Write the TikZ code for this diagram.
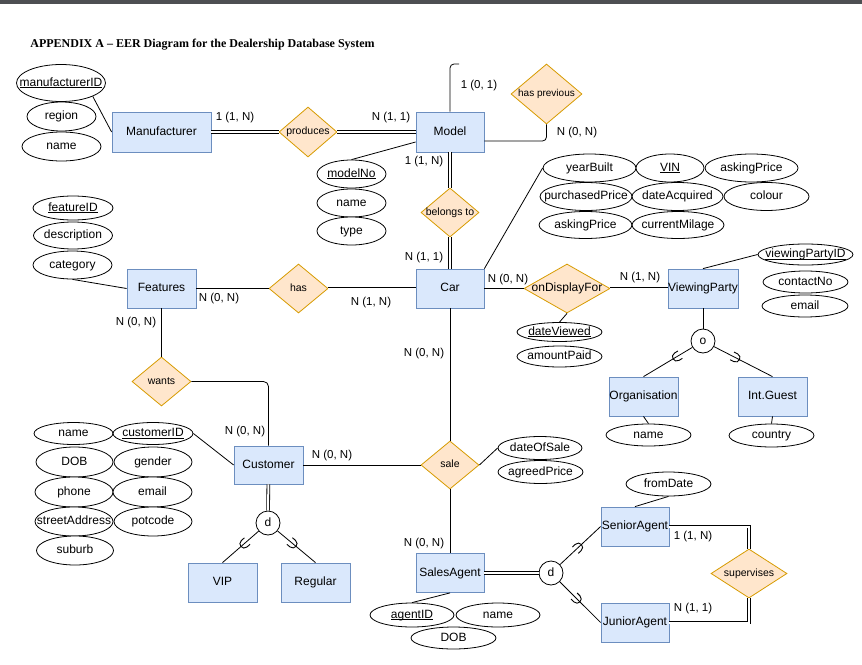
\documentclass[tikz,border=0pt]{standalone}
\usepackage{fontspec}
\setmainfont{Liberation Sans}
\newfontfamily\titlefont{Liberation Serif}
\usetikzlibrary{shapes.geometric, decorations.markings, calc}
\definecolor{entfill}{HTML}{DAE8FC}
\definecolor{entdraw}{HTML}{6C8EBF}
\definecolor{relfill}{HTML}{FFE6CC}
\definecolor{reldraw}{HTML}{D79B00}
\definecolor{bandgray}{HTML}{4D4F52}
\newcommand{\fsz}[1]{\fontsize{#1}{#1}\selectfont}
\newcommand{\zw}[1]{\makebox[0pt]{\rule[-0.22em]{0pt}{0.94em}#1}}
\newcommand{\ukey}[1]{\underline{\raisebox{0pt}[\height][0pt]{#1}}}
\begin{document}
\begin{tikzpicture}[x=1pt, y=-1pt, line width=0.8pt,
  ent/.style={rectangle, draw=entdraw, fill=entfill, inner sep=0pt, minimum width=69, minimum height=39, font=\fsz{12}},
  rel/.style={diamond, draw=reldraw, fill=relfill, inner sep=0pt, font=\fsz{10.5}},
  attr/.style 2 args={ellipse, draw=black, fill=white, inner sep=0pt, minimum width=#1, minimum height=#2, font=\fsz{12}},
  card/.style={font=\fsz{11.5}, inner sep=0pt},
  spec/.style={circle, draw=black, fill=white, minimum size=24, inner sep=0pt, font=\fsz{12}},
  dbl/.style={double, double distance=2pt},
  subs/.style={postaction={decorate, decoration={markings, mark=at position #1 with {\draw[line width=0.9pt] (-4,4.3) -- (0,4.3) .. controls (5.7,4.3) and (5.7,-4.3) .. (0,-4.3) -- (-4,-4.3);}}}}
]
\path[fill=white, use as bounding box] (0,0) rectangle (862,664);
\fill[bandgray] (0,0) rectangle (862,4);
\node[anchor=west, inner sep=0pt, font=\titlefont\bfseries\fsz{12}] (title) at (30,45) {APPENDIX A – EER Diagram for the Dealership Database System};

% entities
\node[ent, minimum width=99, minimum height=40] (manu) at (161.5,132) {\zw{Manufacturer}};
\node[ent, minimum width=68, minimum height=40] (model) at (450,132) {\zw{Model}};
\node[ent, minimum width=68] (car) at (450,288.5) {\zw{Car}};
\node[ent] (feat) at (161.5,288.5) {\zw{Features}};
\node[ent, minimum height=38] (cust) at (268.5,465) {\zw{Customer}};
\node[ent] (vip) at (222.5,582.5) {\zw{VIP}};
\node[ent] (reg) at (315.5,582.5) {\zw{Regular}};
\node[ent, minimum width=68] (sa) at (450,573) {\zw{SalesAgent}};
\node[ent, minimum width=68] (senior) at (635,526.5) {\zw{SeniorAgent}};
\node[ent, minimum width=68] (junior) at (635,622.5) {\zw{JuniorAgent}};
\node[ent, minimum width=70] (vp) at (703,288.5) {\zw{ViewingParty}};
\node[ent] (org) at (643.5,396.5) {\zw{Organisation}};
\node[ent] (intg) at (772.5,396.5) {\zw{Int.Guest}};

% relationships
\node[rel, minimum width=58, minimum height=50] (produces) at (308,132) {\zw{produces}};
\node[rel, minimum width=71, minimum height=60, font=\fsz{10}] (hasprev) at (546.5,94) {\zw{has previous}};
\node[rel, minimum width=58, minimum height=49] (belongs) at (450,212.5) {\zw{belongs to}};
\node[rel, minimum width=59, minimum height=49] (has) at (298.5,288.5) {\zw{has}};
\node[rel, minimum width=59, minimum height=49] (wants) at (161.5,381.5) {\zw{wants}};
\node[rel, minimum width=58, minimum height=48] (sale) at (450,465) {\zw{sale}};
\node[rel, minimum width=86, minimum height=49, font=\fsz{12}] (odf) at (567,288.5) {\zw{onDisplayFor}};
\node[rel, minimum width=76, minimum height=49] (sup) at (749,573.5) {\zw{supervises}};

% specialisation circles
\node[spec] (d1) at (268,523) {\zw{d}};
\node[spec] (ov) at (703,341) {\zw{o}};
\node[spec] (d2) at (551,573) {\zw{d}};

% attributes
\node[attr={89}{37}] (mid) at (61,83) {\zw{\ukey{manufacturerID}}};
\node[attr={69}{29}] (region) at (61.5,116.5) {\zw{region}};
\node[attr={79}{29}] (mname) at (61.5,146.5) {\zw{name}};
\node[attr={69}{28}] (modelno) at (351.5,174) {\zw{\ukey{modelNo}}};
\node[attr={69}{28}] (mdname) at (351.5,203) {\zw{name}};
\node[attr={69}{28}] (mtype) at (351.5,231) {\zw{type}};
\node[attr={80}{24}] (fid) at (73,208) {\zw{\ukey{featureID}}};
\node[attr={79}{27}] (fdesc) at (73,235.5) {\zw{description}};
\node[attr={79}{28}] (fcat) at (72.5,265) {\zw{category}};

\node[attr={93}{28}] (yb) at (589.5,168) {\zw{yearBuilt}};
\node[attr={68}{28}] (vin) at (670,168) {\zw{\ukey{VIN}}};
\node[attr={93}{28}] (ap1) at (751.5,168) {\zw{askingPrice}};
\node[attr={92}{28}] (pp) at (586,196.5) {\zw{purchasedPrice}};
\node[attr={91}{28}] (da) at (677.5,196.5) {\zw{dateAcquired}};
\node[attr={85}{28}] (col) at (766.5,196.5) {\zw{colour}};
\node[attr={93}{27}] (ap2) at (585.5,225) {\zw{askingPrice}};
\node[attr={92}{27}] (cm) at (678,225) {\zw{currentMilage}};

\node[attr={79}{22}] (cname) at (73.5,433.5) {\zw{name}};
\node[attr={80}{22}] (cid) at (153,433.5) {\zw{\ukey{customerID}}};
\node[attr={77}{30}] (cdob) at (74.5,462) {\zw{DOB}};
\node[attr={78}{30}] (cgen) at (153,462) {\zw{gender}};
\node[attr={78}{30}] (cphone) at (74,492) {\zw{phone}};
\node[attr={79}{30}] (cemail) at (152.5,492) {\zw{email}};
\node[attr={78}{29}] (cstreet) at (74,521.5) {\zw{streetAddress}};
\node[attr={78}{29}] (cpot) at (153,521.5) {\zw{potcode}};
\node[attr={77}{29}] (csub) at (75,550.5) {\zw{suburb}};

\node[attr={84}{23}] (dos) at (540,448) {\zw{dateOfSale}};
\node[attr={85}{23}] (agp) at (540.5,472) {\zw{agreedPrice}};
\node[attr={84}{24}] (aid) at (412,615) {\zw{\ukey{agentID}}};
\node[attr={84}{24}] (aname) at (498,615) {\zw{name}};
\node[attr={85}{22}] (adob) at (453.5,638) {\zw{DOB}};
\node[attr={85}{24}] (fd) at (668.5,484) {\zw{fromDate}};

\node[attr={95}{21}] (vpid) at (805.5,254.5) {\zw{\ukey{viewingPartyID}}};
\node[attr={85}{22}] (vcon) at (805.5,282) {\zw{contactNo}};
\node[attr={86}{22}] (vem) at (805,306) {\zw{email}};
\node[attr={85}{19}] (dv) at (559.5,332) {\zw{\ukey{dateViewed}}};
\node[attr={85}{21}] (apd) at (559.5,356.5) {\zw{amountPaid}};
\node[attr={85}{22}] (oname) at (648.5,435) {\zw{name}};
\node[attr={85}{23}] (ctry) at (771.5,435.5) {\zw{country}};

\coordinate (hpend) at (459,64);

% connectors
\draw (mid.south east) -- (manu.west);
\draw[dbl] (manu) -- (produces);
\draw[dbl] (produces) -- (model);
\draw (modelno.north) -- ($(model.west)+(0,10)$);
\draw[rounded corners=4] (model.north) |- (hpend);
\draw[rounded corners=4] ($(model.east)+(0,9)$) -| (hasprev.south);
\draw[dbl] (model) -- (belongs);
\draw[dbl] (belongs) -- (car);
\draw (car.north east) -- (yb.west);
\draw (fcat.south) -- (feat.west);
\draw (feat) -- (has);
\draw[dbl] (has) -- (car);
\draw (feat) -- (wants);
\draw[rounded corners=5] (wants.east) -| (cust.north);
\draw (cid.east) -- (cust.west);
\draw (cust) -- (sale);
\draw (car) -- (sale);
\draw (sale) -- (sa);
\draw (sale.east) -- (dos.west);
\draw[dbl] (cust) -- (d1);
\draw[subs=0.4] (d1) -- (vip.north);
\draw[subs=0.4] (d1) -- (reg.north);
\draw (sa.south) -- (aid.north);
\draw[dbl] (sa) -- (d2);
\draw[subs=0.45] (d2) -- (senior.west);
\draw[subs=0.42] (d2) -- (junior.west);
\draw (senior.north) -- (fd.south);
\draw[dbl] (senior.east) -| (sup.north);
\draw[dbl] (junior.east) -| (sup.south);
\draw (car) -- (odf);
\draw[dbl] (odf) -- (vp);
\draw (odf.south) -- (dv.north);
\draw (vp.north) -- (vpid.west);
\draw (vp) -- (ov);
\draw[subs=0.32] (ov) -- (org.north);
\draw[subs=0.37] (ov) -- (intg.north);
\draw (org.south) -- (oname.north);
\draw (intg.south) -- (ctry.north);

% cardinalities
\node[card] (k1) at (235,118) {1 (1, N)};
\node[card] (k2) at (391,118) {N (1, 1)};
\node[card] (k3) at (424,162) {1 (1, N)};
\node[card] (k4) at (479,86) {1 (0, 1)};
\node[card] (k5) at (577,133) {N (0, N)};
\node[card] (k6) at (424,258) {N (1, 1)};
\node[card] (k7) at (219,299) {N (0, N)};
\node[card] (k8) at (371,303) {N (1, N)};
\node[card] (k9) at (136,323) {N (0, N)};
\node[card] (k10) at (245,432) {N (0, N)};
\node[card] (k11) at (508,280) {N (0, N)};
\node[card] (k12) at (640,278) {N (1, N)};
\node[card] (k13) at (424,354) {N (0, N)};
\node[card] (k14) at (332,456) {N (0, N)};
\node[card] (k15) at (424,544) {N (0, N)};
\node[card] (k16) at (693,537) {1 (1, N)};
\node[card] (k17) at (693,609) {N (1, 1)};
\end{tikzpicture}
\end{document}
